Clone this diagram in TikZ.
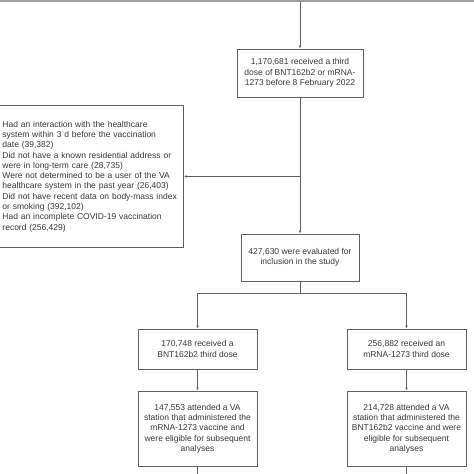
\documentclass[tikz,border=0pt]{standalone}
\usepackage{fontspec}
\setmainfont{Liberation Sans}
\usetikzlibrary{arrows.meta}
\definecolor{linegrey}{RGB}{95,95,95}
\definecolor{textgrey}{RGB}{55,55,55}
\begin{document}
\begin{tikzpicture}[x=1pt,y=-1pt,
    box/.style={draw=linegrey, line width=0.9pt, text=textgrey, align=center, inner sep=2pt,
        font=\fontsize{8.5}{10.3}\selectfont},
    conn/.style={draw=linegrey, line width=0.9pt, >={Latex[length=3pt,width=2.6pt]}}]

    \clip (0,0) rectangle (474,474);

    \node[box, draw=linegrey!60, line width=2pt, minimum width=490, minimum height=40, anchor=south] (cohort) at (237,2) {};
    \node[box, minimum width=126, minimum height=48] (dose) at (300,73)
        {1,170,681 received a third\\dose of BNT162b2 or mRNA-\\1273 before 8 February 2022};
    \node[box, anchor=north west, align=left, text width=176, inner xsep=5, minimum height=142] (excl) at (-3,105)
        {Had an interaction with the healthcare\\system within 3 d before the vaccination\\date (39,382)\\
         Did not have a known residential address or\\were in long-term care (28,735)\\
         Were not determined to be a user of the VA\\healthcare system in the past year (26,403)\\
         Did not have recent data on body-mass index\\or smoking (392,102)\\
         Had an incomplete COVID-19 vaccination\\record (256,429)};
    \node[box, minimum width=118, minimum height=47] (eval) at (300,257.5)
        {427,630 were evaluated for\\inclusion in the study};
    \node[box, minimum width=119, minimum height=40] (bnt) at (197.5,349)
        {170,748 received a\\BNT162b2 third dose};
    \node[box, minimum width=119, minimum height=40] (mrna) at (406.5,349)
        {256,882 received an\\mRNA-1273 third dose};
    \node[box, minimum width=119, minimum height=75] (bntok) at (197.5,428.5)
        {147,553 attended a VA\\station that administered the\\mRNA-1273 vaccine and\\were eligible for subsequent\\analyses};
    \node[box, minimum width=119, minimum height=75] (mrnaok) at (406.5,428.5)
        {214,728 attended a VA\\station that administered the\\BNT162b2 vaccine and were\\eligible for subsequent\\analyses};

    \coordinate (split) at (dose |- excl.east);
    \coordinate (fork) at (300,293);
    \coordinate (bntout) at (197.5,480);
    \coordinate (mrnaout) at (406.5,480);

    \draw[conn,->] (dose |- cohort.south) -- (dose.north);
    \draw[conn,->] (dose.south) -- (eval.north);
    \draw[conn,->] (split) -- (excl.east);
    \draw[conn,->] (eval.south) -- (fork) -| (bnt.north);
    \draw[conn,->] (fork) -| (mrna.north);
    \draw[conn,->] (bnt.south) -- (bntok.north);
    \draw[conn,->] (mrna.south) -- (mrnaok.north);
    \draw[conn] (bntok.south) -- (bntout);
    \draw[conn] (mrnaok.south) -- (mrnaout);
\end{tikzpicture}
\end{document}
